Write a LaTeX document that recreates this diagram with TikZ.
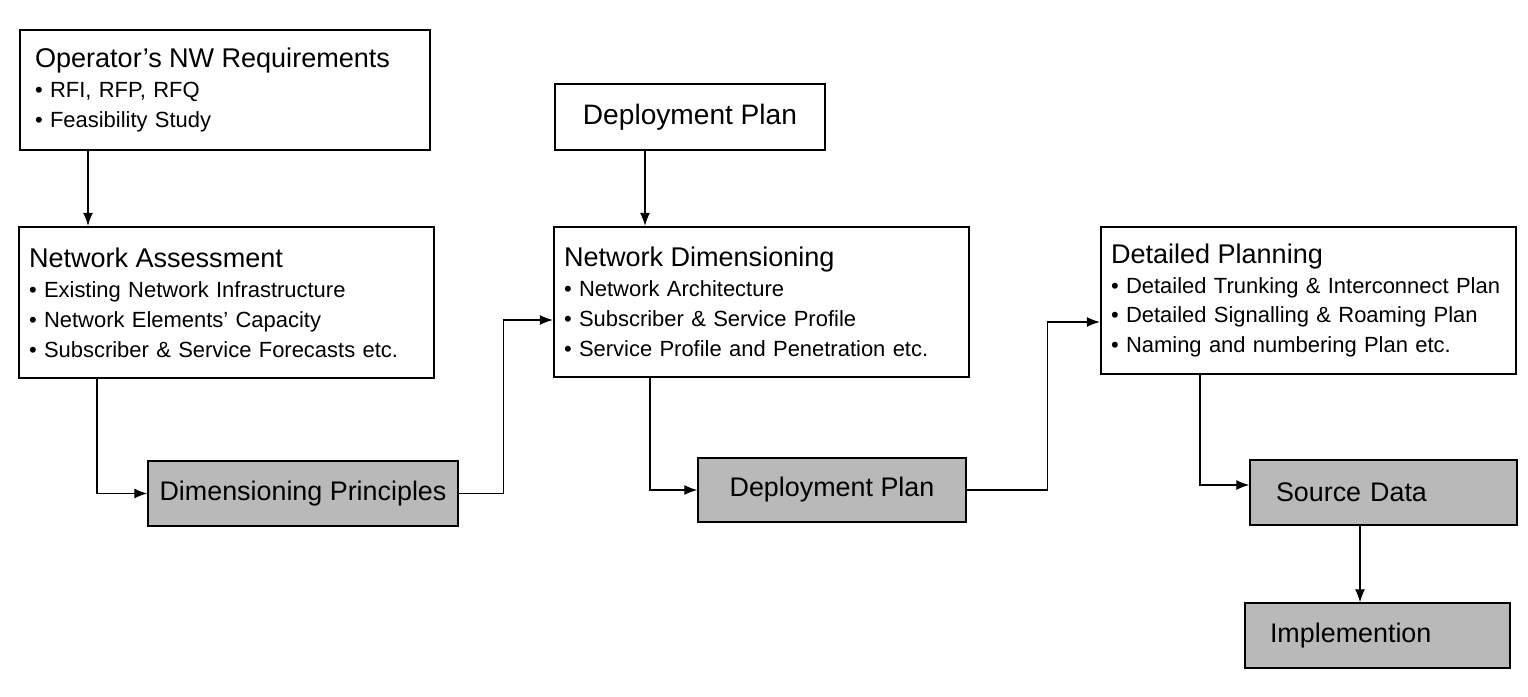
\documentclass[tikz,border=0pt]{standalone}
\usepackage{fontspec}
\setmainfont{Liberation Sans}
\usetikzlibrary{arrows.meta}

\tikzset{
    box/.style={draw, line width=1.3pt, fill=white, inner xsep=0.2cm, inner ysep=0.1cm, font=\fontsize{12.5}{17}\selectfont},
    gbox/.style={draw, line width=0.8pt, fill=gray!55, font=\fontsize{15.3}{18}\selectfont},
    arr/.style={-{Latex[length=2.6mm, width=2mm]}, line width=0.7pt},
}
\newcommand{\ttl}[1]{{\fontsize{15.4}{19}\selectfont #1}}
\newcommand{\bul}[1]{\\[0pt]\textbullet\ #1}

\begin{document}
\begin{tikzpicture}
        \useasboundingbox (0, 0) rectangle (30.56, 13.94);

        % Boxes:
        \node[box, minimum width=8.2cm, minimum height=2.4cm, align=left, text width=7.6cm] (op) at (4.5, 12.14)
            {\ttl{Operator’s NW Requirements}\bul{RFI, RFP, RFQ}\bul{Feasibility Study}};
        \node[box, minimum width=5.4cm, minimum height=1.32cm, font=\fontsize{16}{19}\selectfont] (dep) at (13.8, 11.6) {Deployment Plan};
        \node[box, minimum width=8.26cm, minimum height=3.02cm, align=left, text width=7.9cm] (na) at (4.53, 7.89)
            {\ttl{Network Assessment}\bul{Existing Network Infrastructure}\bul{Network Elements' Capacity}\bul{Subscriber \& Service Forecasts etc.}};
        \node[box, minimum width=8.26cm, minimum height=3.0cm, align=left, text width=7.9cm] (nd) at (15.23, 7.9)
            {\ttl{Network Dimensioning}\bul{Network Architecture}\bul{Subscriber \& Service Profile}\bul{Service Profile and Penetration etc.}};
        \node[box, minimum width=8.26cm, minimum height=2.94cm, align=left, text width=7.9cm] (dpl) at (26.17, 7.93)
            {\ttl{Detailed Planning}\bul{Detailed Trunking \& Interconnect Plan}\bul{Detailed Signalling \& Roaming Plan}\bul{Naming and numbering Plan etc.}};
        \node[gbox, minimum width=6.2cm, minimum height=1.3cm] (dpr) at (6.06, 4.07) {Dimensioning Principles};
        \node[gbox, minimum width=5.36cm, minimum height=1.28cm] (dgr) at (16.64, 4.14) {Deployment Plan};
        \node[gbox, minimum width=5.34cm, minimum height=1.3cm, text width=4.3cm, align=left] (src) at (27.67, 4.09) {Source Data};
        \node[gbox, minimum width=5.3cm, minimum height=1.3cm, text width=4.3cm, align=left] (imp) at (27.55, 1.23) {Implemention};

        % Connectors:
        \draw[arr] ([xshift=-2.74cm]op.south) -- ([xshift=-2.74cm]op.south |- na.north);
        \draw[arr] ([xshift=-0.9cm]dep.south) -- ([xshift=-0.9cm]dep.south |- nd.north);
        \draw[arr] ([xshift=-2.59cm]na.south) |- (dpr.west);
        \draw[arr] (dpr.east) -- ++(0.9, 0) |- ([yshift=-0.36cm]nd.west);
        \draw[arr] ([xshift=-2.23cm]nd.south) |- (dgr.west);
        \draw[arr] (dgr.east) -- ++(1.62, 0) |- ([yshift=-0.43cm]dpl.west);
        \draw[arr] ([xshift=-2.17cm]dpl.south) |- ([yshift=0.15cm]src.west);
        \draw[arr] ([xshift=-0.47cm]src.south) -- ([xshift=-0.47cm]src.south |- imp.north);
    \end{tikzpicture}
\end{document}
